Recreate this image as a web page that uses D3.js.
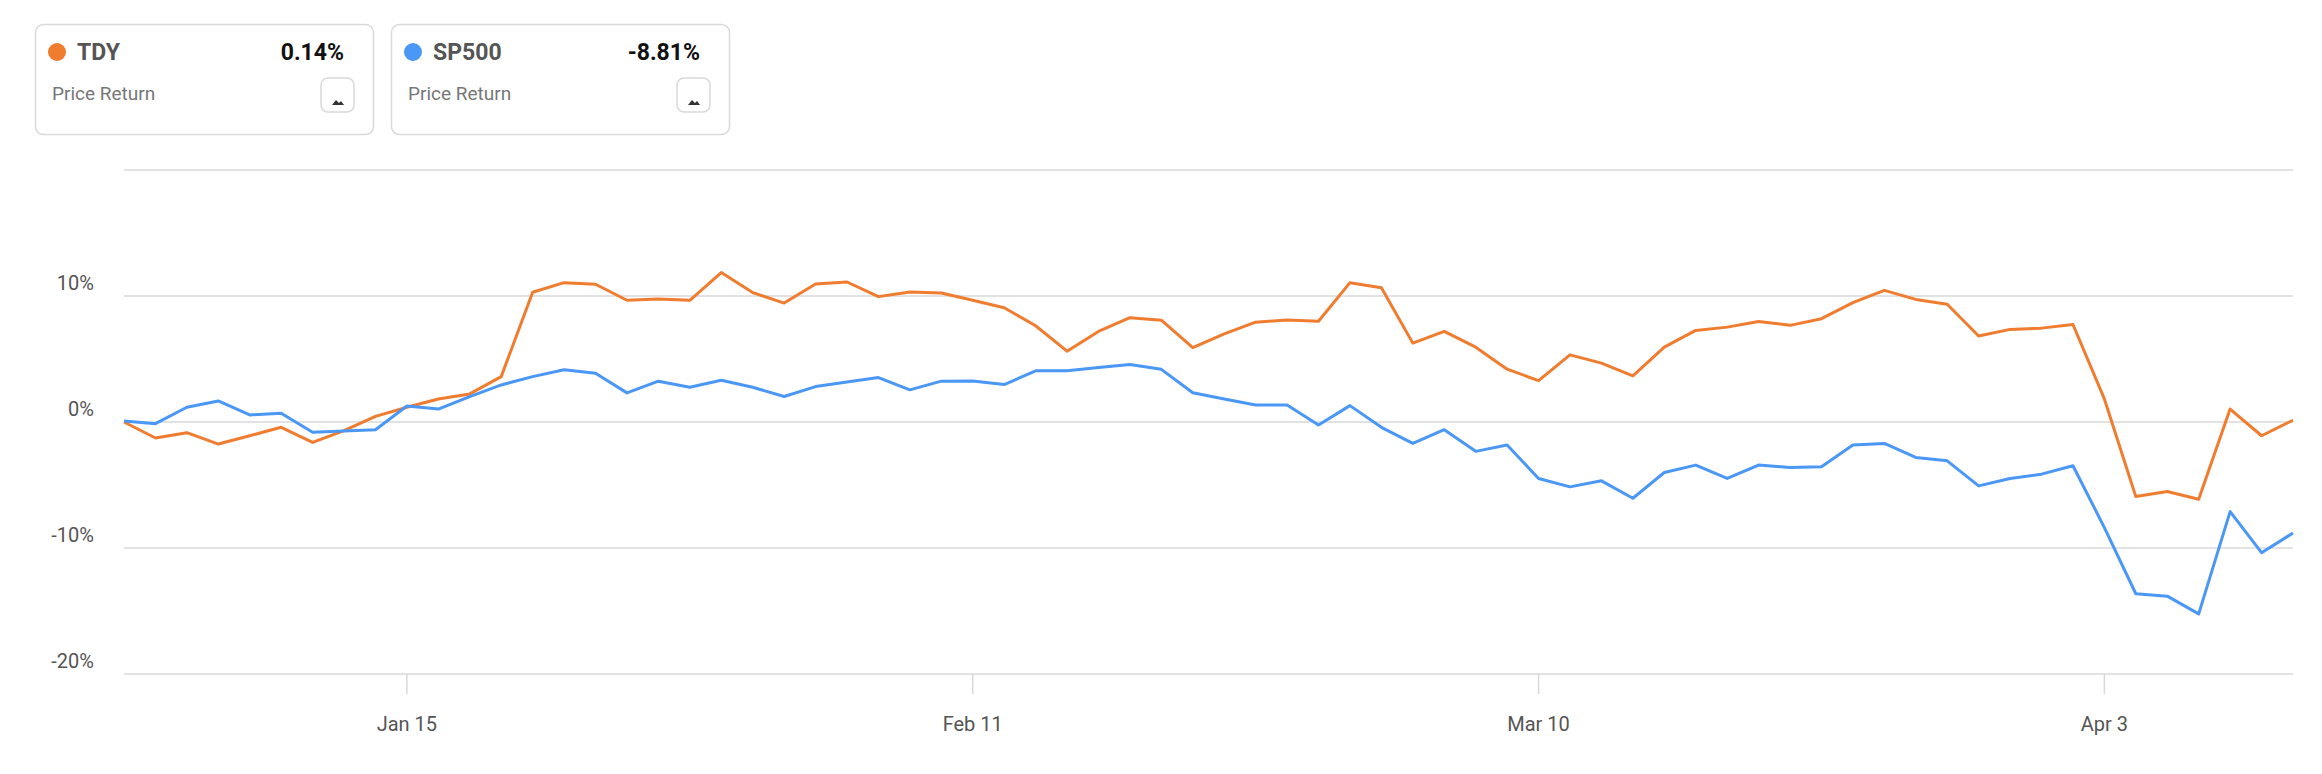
<!DOCTYPE html>
<html><head><meta charset="utf-8">
<script src="https://cdn.jsdelivr.net/npm/d3@7"></script>
<style>body{margin:0;background:#fff;font-family:Roboto,"Noto Sans",sans-serif}</style>
</head><body>
<svg id="chart" width="2322" height="774"></svg>
<script>
const tdy = [0,-1.27,-0.85,-1.75,-1.09,-0.42,-1.62,-0.69,0.45,1.17,1.83,2.23,3.6,10.3,11.06,10.93,9.66,9.76,9.66,11.86,10.27,9.44,10.95,11.11,9.95,10.32,10.24,9.66,9.07,7.64,5.62,7.19,8.28,8.08,5.9,6.99,7.92,8.1,8.0,11.06,10.66,6.26,7.19,5.94,4.19,3.29,5.33,4.67,3.66,5.94,7.27,7.53,7.98,7.67,8.2,9.47,10.45,9.73,9.34,6.82,7.35,7.45,7.74,1.83,-5.92,-5.52,-6.13,1.03,-1.09,0.14];
const sp500 = [0.08,-0.13,1.17,1.67,0.56,0.69,-0.82,-0.72,-0.61,1.27,1.03,2.02,2.94,3.6,4.14,3.87,2.31,3.24,2.76,3.32,2.76,2.02,2.81,3.18,3.53,2.55,3.24,3.26,2.97,4.06,4.06,4.32,4.56,4.18,2.32,1.83,1.35,1.35,-0.24,1.3,-0.42,-1.7,-0.61,-2.33,-1.83,-4.48,-5.15,-4.67,-6.05,-4.01,-3.42,-4.48,-3.42,-3.61,-3.55,-1.83,-1.7,-2.81,-3.08,-5.07,-4.48,-4.14,-3.47,-8.38,-13.63,-13.82,-15.23,-7.11,-10.37,-8.81];
const tickIdx = [9, 27, 45, 63];
const tickLabels = ["Jan 15", "Feb 11", "Mar 10", "Apr 3"];
const yTicks = [-20, -10, 0, 10, 20];
const series = [
  {name: "TDY", value: "0.14%", color: "#f07c2f", data: tdy},
  {name: "SP500", value: "-8.81%", color: "#4a97f6", data: sp500}
];

const svg = d3.select("#chart");
const x = d3.scaleLinear().domain([0, tdy.length - 1]).range([124, 2293]);
const y = d3.scaleLinear().domain([-20, 20]).range([674, 170]);

// grid
svg.append("g").selectAll("line").data(yTicks).join("line")
  .attr("x1", 124).attr("x2", 2293).attr("y1", d => y(d)).attr("y2", d => y(d))
  .attr("stroke", "#d9d9d9").attr("stroke-width", 1.5);
svg.append("g").selectAll("text").data(yTicks.filter(d => d < 20)).join("text")
  .attr("x", 94).attr("y", d => y(d) - 6).attr("text-anchor", "end")
  .attr("font-size", 20).attr("fill", "#555").text(d => d + "%");

// x ticks
svg.append("g").selectAll("line").data(tickIdx).join("line")
  .attr("x1", d => x(d)).attr("x2", d => x(d)).attr("y1", 674).attr("y2", 694)
  .attr("stroke", "#d9d9d9").attr("stroke-width", 1.5);
svg.append("g").selectAll("text").data(tickIdx).join("text")
  .attr("x", d => x(d)).attr("y", 731).attr("text-anchor", "middle")
  .attr("font-size", 20).attr("fill", "#555").text((d, i) => tickLabels[i]);

const line = d3.line().x((d, i) => x(i)).y(d => y(d));
series.forEach(s => {
  svg.append("path").datum(s.data).attr("fill", "none").attr("stroke", s.color)
    .attr("stroke-width", 3).attr("stroke-linejoin", "round").attr("d", line);
});

// legend cards
series.forEach((s, i) => {
  const g = svg.append("g").attr("transform", `translate(${35 + i * 356},24)`);
  g.append("rect").attr("x", 0.5).attr("y", 0.5).attr("width", 338).attr("height", 110)
    .attr("rx", 8).attr("fill", "#fff").attr("stroke", "#d9d9d9").attr("stroke-width", 1.5);
  g.append("circle").attr("cx", 22).attr("cy", 28).attr("r", 9).attr("fill", s.color);
  g.append("text").attr("x", 42).attr("y", 36).attr("font-size", 23).attr("font-weight", 700)
    .attr("fill", "#555").text(s.name);
  g.append("text").attr("x", 309).attr("y", 36).attr("text-anchor", "end").attr("font-size", 23)
    .attr("font-weight", 700).attr("fill", "#111").text(s.value);
  g.append("text").attr("x", 17).attr("y", 76).attr("font-size", 19).attr("fill", "#777").text("Price Return");
  g.append("rect").attr("x", 286).attr("y", 54).attr("width", 33).attr("height", 34).attr("rx", 7)
    .attr("fill", "#fff").attr("stroke", "#d9d9d9").attr("stroke-width", 1.5);
  g.append("path").attr("d", "M297,81 L301,76 L304,79 L306,77 L309,81 Z").attr("fill", "#333");
});
</script>
</body></html>
